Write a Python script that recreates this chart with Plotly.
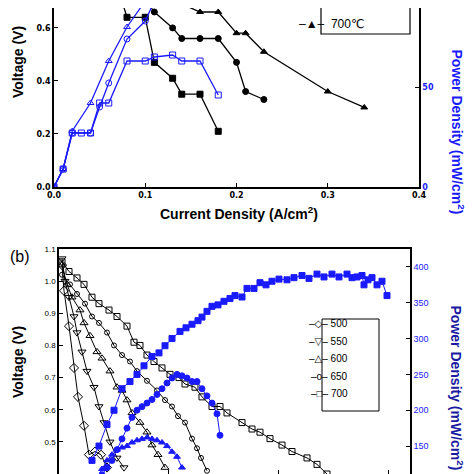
import plotly.graph_objects as go

W = 474
OFF = 8
XOFF = 6
def px(v): return (v - XOFF) / W
def py(v): return 1 - (v - OFF) / W

# ---- top panel data ----
t_sq_x = [0.07, 0.08, 0.10, 0.11, 0.13, 0.14, 0.16, 0.18]
t_sq_v = [0.75, 0.64, 0.64, 0.47, 0.41, 0.35, 0.35, 0.21]
t_ci_x = [0.09, 0.11, 0.13, 0.14, 0.16, 0.18, 0.20, 0.21, 0.23]
t_ci_v = [0.75, 0.66, 0.60, 0.56, 0.56, 0.56, 0.47, 0.36, 0.33]
t_tr_x = [0.12, 0.14, 0.16, 0.18, 0.20, 0.21, 0.23, 0.30, 0.34]
t_tr_v = [0.74, 0.69, 0.66, 0.66, 0.58, 0.58, 0.51, 0.36, 0.30]
t_psq_x = [0, 0.01, 0.02, 0.03, 0.04, 0.05, 0.06, 0.08, 0.10, 0.11, 0.13, 0.14, 0.16, 0.18]
t_psq_p = [0, 9, 27, 27, 27, 42, 42, 63, 63, 65, 66, 63, 63, 46]
t_pci_x = [0, 0.01, 0.02, 0.04, 0.05, 0.06, 0.08, 0.10, 0.11]
t_pci_p = [0, 9, 27, 27, 40, 52, 74, 83, 93]
t_ptr_x = [0, 0.01, 0.02, 0.04, 0.06, 0.08, 0.10, 0.12]
t_ptr_p = [0, 9, 28, 42, 63, 80, 93, 96]
top_xticks = ["0.0", "0.1", "0.2", "0.3", "0.4"]
top_yticks = ["0.0", "0.2", "0.4", "0.6"]

# ---- bottom panel data (x in A/cm2) ----
def cx(p): return round((p - 57) / 351 * 1.6, 4)
b500_x = [cx(p) for p in [60, 62, 67, 72, 76, 82, 87, 93, 99, 105]]
b500_v = [1.05, 0.97, 0.86, 0.73, 0.64, 0.55, 0.46, 0.47, 0.46, 0.42]
b550_x = [cx(p) for p in [60, 63, 67, 72, 75, 80, 85, 92, 97, 102, 108, 115, 122]]
b550_v = [1.07, 1.00, 0.95, 0.89, 0.84, 0.78, 0.72, 0.67, 0.61, 0.56, 0.50, 0.45, 0.42]
b600_x = [cx(p) for p in [60, 65, 70, 78, 82, 88, 95, 100, 108, 115, 120, 125, 130, 138, 145, 150, 156, 163]]
b600_v = [1.05, 0.99, 0.95, 0.91, 0.87, 0.83, 0.78, 0.76, 0.72, 0.67, 0.66, 0.63, 0.59, 0.56, 0.53, 0.49, 0.46, 0.42]
b650_x = [cx(p) for p in [60, 68, 75, 83, 90, 97, 105, 112, 120, 128, 135, 145, 155, 163, 170, 176, 183, 190, 195, 199, 205]]
b650_v = [1.02, 0.99, 0.96, 0.93, 0.89, 0.87, 0.84, 0.80, 0.77, 0.75, 0.72, 0.69, 0.66, 0.63, 0.61, 0.58, 0.56, 0.51, 0.48, 0.45, 0.41]
b700_x = [cx(p) for p in [60, 67, 75, 82, 90, 97, 107, 115, 125, 132, 138, 145, 152, 160, 168, 177, 183, 193, 200, 210, 218, 225, 240, 250, 258, 268, 280, 290, 305, 315, 325]]
b700_v = [1.06, 1.03, 1.01, 0.99, 0.95, 0.93, 0.91, 0.89, 0.86, 0.81, 0.80, 0.77, 0.75, 0.73, 0.71, 0.70, 0.68, 0.67, 0.64, 0.61, 0.61, 0.59, 0.56, 0.54, 0.53, 0.51, 0.49, 0.47, 0.45, 0.43, 0.40]
bp700_x = [cx(p) for p in [90, 97, 105, 112, 120, 128, 135, 142, 150, 157, 163, 170, 178, 184, 190, 196, 200, 205, 210, 216, 222, 228, 233, 240, 245, 252, 258, 264, 270, 277, 285, 292, 300, 307, 315, 322, 330, 337, 345, 350, 355, 360, 362, 366, 370, 375, 380, 385]]
bp700_p = [130, 150, 180, 200, 230, 240, 250, 262, 275, 280, 290, 300, 310, 315, 320, 325, 330, 338, 345, 347, 352, 356, 360, 358, 370, 370, 378, 375, 380, 383, 382, 385, 388, 384, 390, 386, 390, 386, 390, 385, 386, 388, 375, 382, 385, 375, 380, 360]
bp650_x = [cx(p) for p in [100, 105, 110, 115, 120, 125, 130, 135, 140, 145, 150, 155, 160, 165, 170, 175, 180, 185, 190, 195, 200, 205, 210, 215, 218]]
bp650_p = [110, 120, 130, 145, 160, 175, 190, 200, 205, 210, 215, 222, 230, 238, 245, 250, 248, 245, 240, 240, 230, 220, 210, 195, 165]
bp600_x = [cx(p) for p in [95, 100, 105, 110, 115, 120, 125, 130, 135, 140, 145, 150, 155, 160, 165, 170, 175, 180]]
bp600_p = [105, 118, 130, 138, 145, 148, 150, 155, 158, 160, 162, 160, 158, 155, 150, 142, 135, 120]
legend_labels = ["500", "550", "600", "650", "700"]

BLUE = "#1a1aff"
fig = go.Figure()
def add(x, y, sym, xa, ya, color, size=6, lw=1.3):
    fig.add_trace(go.Scatter(x=x, y=y, xaxis=xa, yaxis=ya, mode="lines+markers",
        line=dict(color=color, width=lw), marker=dict(symbol=sym, size=size, color=color,
        line=dict(color=color, width=1)), showlegend=False))

add(t_sq_x, t_sq_v, "square", "x", "y", "black")
add(t_ci_x, t_ci_v, "circle", "x", "y", "black")
add(t_tr_x, t_tr_v, "triangle-up", "x", "y", "black")
add(t_psq_x, t_psq_p, "square-open", "x", "y2", BLUE)
add(t_pci_x, t_pci_p, "circle-open", "x", "y2", BLUE)
add(t_ptr_x, t_ptr_p, "triangle-up-open", "x", "y2", BLUE)

add(b500_x, b500_v, "diamond-open", "x3", "y3", "black", size=7, lw=1)
add(b550_x, b550_v, "triangle-down-open", "x3", "y3", "black", size=7, lw=1)
add(b600_x, b600_v, "triangle-up-open", "x3", "y3", "black", size=7, lw=1)
add(b650_x, b650_v, "circle-open", "x3", "y3", "black", size=5, lw=1)
add(b700_x, b700_v, "square-open", "x3", "y3", "black", size=6, lw=1)
add(bp700_x, bp700_p, "square", "x3", "y4", BLUE, size=6, lw=1)
add(bp650_x, bp650_p, "circle", "x3", "y4", BLUE, size=6, lw=1)
add(bp600_x, bp600_p, "triangle-up", "x3", "y4", BLUE, size=6, lw=1)

tf = dict(family="DejaVu Sans", size=8, color="black")
ax = dict(showgrid=False, zeroline=False, showline=True, linecolor="black", linewidth=1.5,
          ticks="inside", ticklen=4, tickcolor="black")
fig.update_layout(
    width=W, height=W, margin=dict(l=0, r=0, t=0, b=0, autoexpand=False), plot_bgcolor="white", paper_bgcolor="white",
    showlegend=False,
    xaxis=dict(**ax, domain=[px(52), px(417)], anchor="y", range=[0, 0.4], tickvals=[0, 0.1, 0.2, 0.3, 0.4],
               ticktext=["<b>%s</b>" % t for t in top_xticks], tickfont=tf, mirror=True),
    yaxis=dict(**ax, domain=[py(187), 1], anchor="x", range=[0, 0.675], tickvals=[0, 0.2, 0.4, 0.6],
               ticktext=["<b>%s</b>" % t for t in top_yticks], tickfont=tf),
    yaxis2=dict(**ax, overlaying="y", side="right", anchor="x", range=[0, 89.5], tickvals=[0, 50],
                ticktext=["<b>0</b>", "<b>50</b>"], tickfont=dict(family="DejaVu Sans", size=8, color=BLUE)),
    xaxis3=dict(**ax, domain=[px(57), px(408)], anchor="y3", range=[0, 1.6], showticklabels=False, mirror=True),
    yaxis3=dict(**ax, domain=[py(474), py(249)], anchor="x3", range=[0.4, 1.1],
                tickvals=[0.5, 0.6, 0.7, 0.8, 0.9, 1.0, 1.1], tickformat=".1f",
                tickfont=dict(family="Arial, DejaVu Sans", size=8, color="black")),
    yaxis4=dict(**ax, overlaying="y3", side="right", anchor="x3", range=[111, 425],
                tickvals=[150, 200, 250, 300, 350, 400],
                tickfont=dict(family="Arial, DejaVu Sans", size=9, color=BLUE)),
)
F = "Arial, DejaVu Sans"
fig.add_annotation(xref="paper", yref="paper", showarrow=False, x=px(237), y=py(213),
                   text="<b>Current Density (A/cm<sup>2</sup>)</b>", font=dict(family=F, size=14, color="black"))
fig.add_annotation(xref="paper", yref="paper", showarrow=False, x=0, xanchor="left", y=py(100), yanchor="bottom",
                   text="<b>Voltage (V)</b>", textangle=-90, font=dict(family=F, size=14, color="black"))
fig.add_annotation(xref="paper", yref="paper", showarrow=False, x=px(467), y=py(216), yanchor="bottom",
                   text="<b>Power Density (mW/cm<sup>2</sup>)</b>", textangle=90, font=dict(family=F, size=14, color=BLUE))
fig.add_annotation(xref="paper", yref="paper", showarrow=False, x=0, xanchor="left", y=py(256),
                   text="(b)", font=dict(family=F, size=16, color="black"))
fig.add_annotation(xref="paper", yref="paper", showarrow=False, x=0, xanchor="left", y=py(400),
                   text="<b>Voltage (V)</b>", textangle=-90, font=dict(family=F, size=14, color="black"))
fig.add_annotation(xref="paper", yref="paper", showarrow=False, x=px(466), y=py(303), yanchor="top",
                   text="<b>Power Density (mW/cm<sup>2</sup>)</b>", textangle=90, font=dict(family=F, size=14, color="#1a1aa0"))

# top legend box (partially visible)
fig.add_shape(type="rect", xref="paper", yref="paper", x0=px(319), x1=px(408), y0=py(34), y1=1.01,
              line=dict(color="black", width=1.2), fillcolor="white", layer="above")
fig.add_annotation(xref="paper", yref="paper", x=px(364), y=py(15), text="–▲–  700℃", showarrow=False,
                   font=dict(family=F, size=12, color="black"))
# bottom legend box
syms = ["◇", "▽", "△", "o", "□"]
fig.add_shape(type="rect", xref="paper", yref="paper", x0=px(320), x1=px(377), y0=py(411), y1=py(319),
              line=dict(color="black", width=1), fillcolor="white", layer="above")
for i, (l, s) in enumerate(zip(legend_labels, syms)):
    fig.add_annotation(xref="paper", yref="paper", x=px(348), y=py(331 + i * 17.5), text="–" + s + "– " + l,
                       showarrow=False, font=dict(family=F, size=10, color="black"))

fig.write_html("out.html")
